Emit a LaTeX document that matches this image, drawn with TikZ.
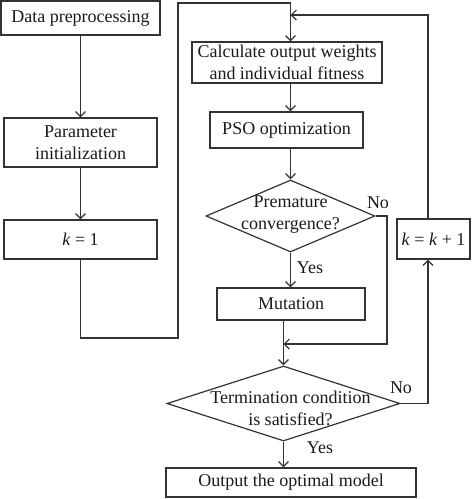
\documentclass[tikz,border=0pt]{standalone}
\usepackage{fontspec}
\setmainfont{Liberation Serif}
\usetikzlibrary{arrows.meta,shapes.geometric}
\definecolor{ln}{HTML}{333333}
\definecolor{tx}{HTML}{1A1A1A}
\begin{document}
\begin{tikzpicture}[x=1pt,y=-1pt,
  every node/.style={font=\fontsize{18}{22}\selectfont, text=tx},
  box/.style={draw=ln, line width=1.2pt, inner sep=0pt, align=center},
  dia/.style={draw=ln, line width=1.2pt, diamond, inner sep=0pt},
  lab/.style={inner sep=0pt, align=center},
  conn/.style={draw=ln, line width=1.2pt},
  arr/.style={conn, -{Straight Barb[length=5pt,width=10pt,line width=1.2pt]}},
]
\useasboundingbox (0,0) rectangle (474,499);
% boxes
\node[box, minimum width=159pt, minimum height=34pt] (dp) at (80.5,18) {Data preprocessing};
\node[box, minimum width=153pt, minimum height=49pt] (pi) at (80.5,142.5) {Parameter\\initialization};
\node[box, minimum width=153pt, minimum height=39pt] (k1) at (80.5,239.5) {\textit{k} = 1};
\node[box, minimum width=190pt, minimum height=41pt] (calc) at (287,62.5) {Calculate output weights\\and individual fitness};
\node[box, minimum width=153pt, minimum height=36pt] (pso) at (286.5,130) {PSO optimization};
\node[dia, minimum width=169pt, minimum height=72pt] (prem) at (290.5,216) {};
\node[lab] (premtext) at (290.5,215) {Premature\\convergence?};
\node[box, minimum width=148pt, minimum height=32pt] (mut) at (291,304) {Mutation};
\node[dia, minimum width=233pt, minimum height=75pt] (term) at (283.5,403.5) {};
\node[lab] (termtext) at (290.5,408) {Termination condition\\is satisfied?};
\node[box, minimum width=73pt, minimum height=40pt] (kk) at (433.5,239) {\textit{k} = \textit{k} + 1};
\node[box, minimum width=250pt, minimum height=29pt] (out) at (291,482.5) {Output the optimal model};
% labels
\node[lab] (yes1) at (310,268) {Yes};
\node[lab] (no1) at (378,203) {No};
\node[lab] (no2) at (401,388) {No};
\node[lab] (yes2) at (320,448) {Yes};
% helper coordinates
\coordinate (c1) at (178,338);
\coordinate (top) at (290.5,3);
\coordinate (c2) at (387,344);
\coordinate (kx) at (428,0);
\coordinate (c4) at (428,15);
% connectors
\draw[arr] (dp.south) -- (pi.north);
\draw[arr] (pi.south) -- (k1.north);
\draw[arr] (k1.south) |- (c1) |- (top) -- (top |- calc.north);
\draw[arr] (top |- calc.south) -- (top |- pso.north);
\draw[arr] (top |- pso.south) -- (prem.north);
\draw[arr] (prem.south) -- (prem.south |- mut.north);
\draw[arr] (prem.east) -| (c2) -- (c2 -| term.north);
\draw[arr] (mut.south -| term.north) -- (term.north);
\draw[arr] (term.south) -- (term.south |- out.north);
\draw[arr] (term.east) -| (kk.south -| kx);
\draw[arr] (kk.north -| c4) |- (top |- c4);
\end{tikzpicture}
\end{document}
